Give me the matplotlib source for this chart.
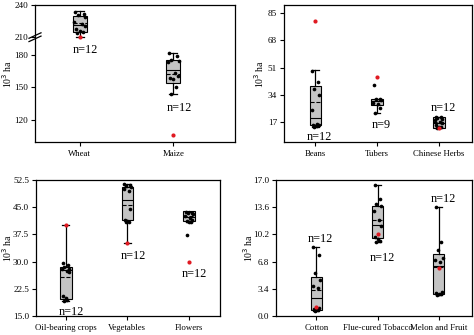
import numpy as np
import matplotlib
matplotlib.use("Agg")
import matplotlib.pyplot as plt

plt.rcParams['font.family'] = ['Liberation Serif', 'DejaVu Serif']

# ---------------- data ----------------
# Panel 1
p1_cats = ["Wheat", "Maize"]
p1_points = [[233.5, 232, 231, 229, 224, 222, 220, 218, 216, 215, 214],
             [182, 179, 176, 175, 174, 163, 161, 159, 158, 150, 144]]
p1_red = [210, 106]
p1_q1 = [214.5, 154]
p1_med = [221, 166.7]
p1_mean = [223.3, 162.7]
p1_q3 = [230, 175.5]
p1_lo = [210, 144]
p1_hi = [234, 182]
p1_nlab = ["n=12", "n=12"]
p1_ny = [184.5, 130.5]
p1_yticks = [120, 150, 180, 210, 240]

# Panel 2
p2_cats = ["Beans", "Tubers", "Chinese Herbs"]
p2_points = [[49, 42, 37.5, 33.5, 24.5, 15.5, 15, 15, 14.5, 14.5, 14],
             [40, 31.5, 31, 30.5, 29, 28, 25.5, 22.5],
             [20, 19.8, 19.5, 19, 18, 17, 16, 15, 14, 13.5, 13.2]]
p2_red = [80, 45, 13]
p2_q1 = [14.9, 27.6, 13.0]
p2_med = [19.5, 29.8, 16.5]
p2_mean = [29.5, 30.2, 16.6]
p2_q3 = [39.6, 31.2, 19.8]
p2_lo = [14, 22.5, 13.0]
p2_hi = [49.4, 31.5, 20.0]
p2_nlab = ["n=12", "n=9", "n=12"]
p2_ny = [7.4, 14.7, 25.4]
p2_yticks = [17, 34, 51, 68, 85]

# Panel 3
p3_cats = ["Oil-bearing crops", "Vegetables", "Flowers"]
p3_points = [[29.5, 29, 28.5, 28, 28, 27.5, 27, 20.5, 20, 19.5, 19],
             [51.3, 51, 50.8, 50.5, 50, 49.5, 44.4, 41.5, 41.3, 41, 41],
             [43.8, 43.5, 43.3, 43, 42.5, 42, 41.5, 41.2, 41, 40.8, 37.4]]
p3_red = [40, 35, 30]
p3_q1 = [19.8, 41.4, 41.1]
p3_med = [27.8, 47.1, 42.3]
p3_mean = [25.7, 45.7, 42.6]
p3_q3 = [28.6, 50.6, 43.9]
p3_lo = [19, 35, 40.8]
p3_hi = [40, 51.3, 43.8]
p3_nlab = ["n=12", "n=12", "n=12"]
p3_ny = [16.0, 31.5, 26.5]
p3_yticks = [15.0, 22.5, 30.0, 37.5, 45.0, 52.5]

# Panel 4
p4_cats = ["Cotton", "Flue-cured Tobacco", "Melon and Fruit"]
p4_points = [[8.6, 7.6, 5.4, 4.5, 3.8, 3.5, 1.0, 0.9, 0.8, 0.7, 0.6],
             [16.4, 14.6, 14.0, 13.8, 13.1, 12.0, 11.2, 9.9, 9.6, 9.4, 9.2],
             [13.6, 9.3, 8.2, 7.3, 7.0, 6.8, 3.0, 2.9, 2.8, 2.7, 2.6]]
p4_red = [1.1, 10.2, 5.95]
p4_q1 = [0.8, 9.7, 2.7]
p4_med = [2.3, 11.4, 6.3]
p4_mean = [3.2, 12.0, 6.1]
p4_q3 = [4.9, 13.8, 7.75]
p4_lo = [0.6, 9.2, 2.6]
p4_hi = [8.6, 16.4, 13.6]
p4_nlab = ["n=12", "n=12", "n=12"]
p4_ny = [9.6, 7.25, 14.6]
p4_yticks = [0.0, 3.4, 6.8, 10.2, 13.6, 17.0]

W, H = 474, 335
fig = plt.figure(figsize=(W / 100, H / 100), dpi=100)


def add_ax(l, r, t, b):
    return fig.add_axes([l / W, 1 - b / H, (r - l) / W, (b - t) / H])


JIT = [-0.05, 0.04, -0.02, 0.06, -0.06, 0.02, 0.05, -0.04, 0.0, 0.03, -0.03, 0.01, -0.01]


def draw_panel(ax, cats, points, red, q1, med, mean, q3, lo, hi, nlab, ny,
               width, nx_off):
    pos = np.arange(1, len(cats) + 1)
    stats = []
    for i in range(len(cats)):
        stats.append(dict(q1=q1[i], med=med[i], mean=mean[i], q3=q3[i],
                          whislo=lo[i], whishi=hi[i], fliers=[]))
    ax.bxp(stats, positions=pos, widths=width, patch_artist=True,
           showmeans=True, meanline=True, showfliers=False,
           capwidths=width * 0.55,
           boxprops=dict(facecolor='#c4c4c4', edgecolor='black', linewidth=0.8),
           medianprops=dict(color='black', linewidth=0.8),
           meanprops=dict(color='black', linewidth=0.8, linestyle='--'),
           whiskerprops=dict(color='black', linewidth=0.9),
           capprops=dict(color='black', linewidth=0.9), zorder=2)
    for i in range(len(cats)):
        pts = points[i]
        xs = [pos[i] + JIT[j % len(JIT)] for j in range(len(pts))]
        ax.scatter(xs, pts, s=7, color='black', zorder=4, linewidths=0)
        ax.scatter([pos[i]], [red[i]], s=9, color='#e01a22', zorder=5, linewidths=0)
        ax.text(pos[i] + nx_off, ny[i], nlab[i], ha='center', va='center',
                fontsize=8.8)
    ax.set_xticks(pos)
    ax.set_xticklabels(cats)
    ax.tick_params(axis='y', labelsize=6.6, length=3, width=0.8, pad=2)
    ax.tick_params(axis='x', labelsize=6.3, length=3, width=0.8, pad=3)
    for s in ax.spines.values():
        s.set_linewidth(0.9)
    ax.set_ylabel("10$^3$ ha", fontsize=7)


# Panel 1 with broken axis
def fwd(y):
    y = np.asarray(y, dtype=float)
    return np.where(y >= 210, y - 13, np.minimum(y, 197))


def inv(y):
    y = np.asarray(y, dtype=float)
    return np.where(y > 197, y + 13, y)


ax1 = add_ax(35, 235, 5, 142)
ax1.set_yscale('function', functions=(fwd, inv))
draw_panel(ax1, p1_cats, p1_points, p1_red, p1_q1, p1_med, p1_mean, p1_q3,
           p1_lo, p1_hi, p1_nlab, p1_ny, 0.15, 0.06)
ax1.set_xlim(0.52, 2.66)
ax1.set_ylim(99, 240)
ax1.set_yticks(p1_yticks)
ax1.set_yticklabels([str(v) for v in p1_yticks])
ax1.yaxis.set_label_coords((14 - 35) / 200, 0.5)
# break marks
for dy in (-0.012, 0.012):
    ax1.plot([-0.03, 0.03], [0.765 + dy - 0.02, 0.765 + dy + 0.02],
             transform=ax1.transAxes, color='black', lw=0.9, clip_on=False, zorder=6)

ax2 = add_ax(284, 472, 5, 142)
draw_panel(ax2, p2_cats, p2_points, p2_red, p2_q1, p2_med, p2_mean, p2_q3,
           p2_lo, p2_hi, p2_nlab, p2_ny, 0.19, 0.07)
ax2.set_xlim(0.49, 3.54)
ax2.set_ylim(4.3, 90.2)
ax2.set_yticks(p2_yticks)
ax2.yaxis.set_label_coords((266 - 284) / 188, 0.5)

ax3 = add_ax(36, 220, 180, 316)
draw_panel(ax3, p3_cats, p3_points, p3_red, p3_q1, p3_med, p3_mean, p3_q3,
           p3_lo, p3_hi, p3_nlab, p3_ny, 0.19, 0.09)
ax3.set_xlim(0.52, 3.5)
ax3.set_ylim(15, 52.5)
ax3.set_yticks(p3_yticks)
ax3.set_yticklabels([f"{v:.1f}" for v in p3_yticks])
ax3.yaxis.set_label_coords((14 - 36) / 184, 0.5)

ax4 = add_ax(276, 472, 180, 316)
draw_panel(ax4, p4_cats, p4_points, p4_red, p4_q1, p4_med, p4_mean, p4_q3,
           p4_lo, p4_hi, p4_nlab, p4_ny, 0.18, 0.07)
ax4.set_xlim(0.34, 3.54)
ax4.set_ylim(0, 17)
ax4.set_yticks(p4_yticks)
ax4.set_yticklabels([f"{v:.1f}" for v in p4_yticks])
ax4.yaxis.set_label_coords((255 - 276) / 196, 0.5)

fig.savefig("out.png", dpi=100)
